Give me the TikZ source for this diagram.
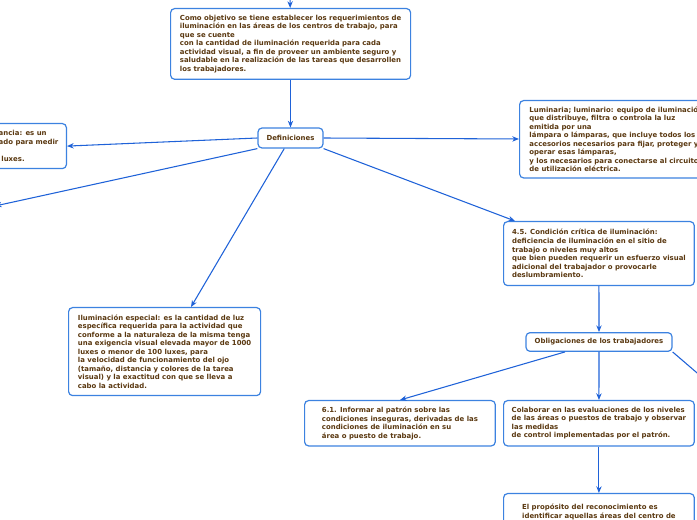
\documentclass[tikz,border=0pt]{standalone}
\usepackage{fontspec}
\setmainfont{DejaVu Sans}
\usetikzlibrary{arrows.meta}
\definecolor{edge}{HTML}{1F62D8}
\definecolor{bord}{HTML}{3C82E0}
\definecolor{txt}{HTML}{5A3810}
\begin{document}
\begin{tikzpicture}[x=0.75pt,y=-0.75pt,
  box/.style={draw=bord,line width=0.9pt,rounded corners=3pt,fill=white,align=left,
    font=\fontsize{5.2}{6.4}\selectfont\bfseries,text=txt,inner xsep=6pt,inner ysep=4pt,anchor=north west},
  con/.style={draw=edge,line width=0.8pt,-{Stealth[length=5pt,width=4pt]}}]
\useasboundingbox (0,0) rectangle (697,520);
\clip (0,0) rectangle (697,520);
\node[box,minimum width=180pt,minimum height=53pt] (obj) at (170,8) {Como objetivo se tiene establecer los requerimientos de\\iluminación en las áreas de los centros de trabajo, para\\que se cuente\\con la cantidad de iluminación requerida para cada\\actividad visual, a fin de proveer un ambiente seguro y\\saludable en la realización de las tareas que desarrollen\\los trabajadores.};
\node[box,minimum width=48.75pt,minimum height=15pt,align=center,anchor=center] (def) at (290.5,138) {Definiciones};
\node[box,minimum height=33.75pt,anchor=north east] (ilu) at (67,123) {ancia: es un\\ado para medir\\\\\hspace*{2pt}luxes.};
\node[box,minimum width=145pt,minimum height=58pt] (lum) at (519,100) {Luminaria; luminario: equipo de iluminación\\que distribuye, filtra o controla la luz\\emitida por una\\lámpara o lámparas, que incluye todos los\\accesorios necesarios para fijar, proteger y\\operar esas lámparas,\\y los necesarios para conectarse al circuito\\de utilización eléctrica.};
\node[box,minimum width=143pt,minimum height=48pt] (cri) at (503,221) {4.5. Condición crítica de iluminación:\\deficiencia de iluminación en el sitio de\\trabajo o niveles muy altos\\que bien pueden requerir un esfuerzo visual\\adicional del trabajador o provocarle\\deslumbramiento.};
\node[box,minimum width=109.5pt,minimum height=14pt,align=center,anchor=center] (obl) at (599,342) {Obligaciones de los trabajadores};
\node[box,minimum width=144pt,minimum height=66pt] (esp) at (68,307) {Iluminación especial: es la cantidad de luz\\específica requerida para la actividad que\\conforme a la naturaleza de la misma tenga\\una exigencia visual elevada mayor de 1000\\luxes o menor de 100 luxes, para\\la velocidad de funcionamiento del ojo\\(tamaño, distancia y colores de la tarea\\visual) y la exactitud con que se lleva a\\cabo la actividad.};
\node[box,minimum width=143pt,minimum height=34pt] (inf) at (304,400) {6.1. Informar al patrón sobre las\\condiciones inseguras, derivadas de las\\condiciones de iluminación en su\\área o puesto de trabajo.};
\node[box,minimum width=143pt,minimum height=34pt] (col) at (503,400) {Colaborar en las evaluaciones de los niveles\\de las áreas o puestos de trabajo y observar\\las medidas\\de control implementadas por el patrón.};
\node[box,minimum width=143pt,minimum height=34pt,inner ysep=3pt] (pro) at (503,493) {El propósito del reconocimiento es\\identificar aquellas áreas del centro de\\trabajo y las tareas visuales};
\coordinate (top) at (290,-5);
\coordinate (offl) at (-5,206);
\coordinate (offr) at (710,384);
\draw[con] (top) -- (obj);
\draw[con] (obj.south -| def) -- (def);
\draw[con] (def.west) -- (ilu.east);
\draw[con] (def.south west) -- (offl);
\draw[con] (def.east) -- (lum.west |- 0,139);
\draw[con] (def) -- (esp.north -| 191,0);
\draw[con] (def.south east) -- (cri.north west -| 515,0);
\draw[con] (cri) -- (obl);
\draw[con] (obl) -- (inf.north -| 400,0);
\draw[con] (obl) -- (col);
\draw[con] (obl.south east) -- (offr);
\draw[con] (col) -- (pro);
\end{tikzpicture}
\end{document}
